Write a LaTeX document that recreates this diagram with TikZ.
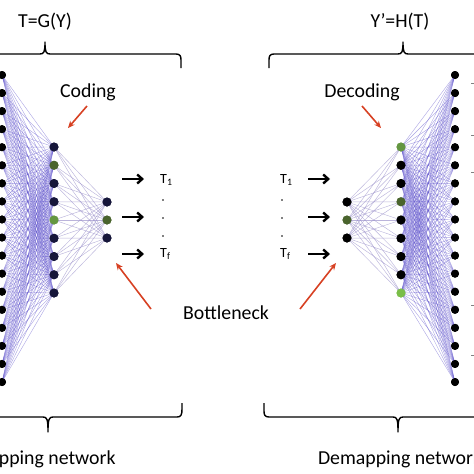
\documentclass[tikz,border=0pt]{standalone}
\usepackage{fontspec}
\setmainfont{Carlito}
\usetikzlibrary{arrows.meta}
\definecolor{navy}{RGB}{22,22,58}
\definecolor{dgreen}{RGB}{74,100,45}
\definecolor{mgreen}{RGB}{100,150,65}
\definecolor{bgreen}{RGB}{122,190,72}
\definecolor{wire}{RGB}{100,88,205}
\definecolor{wirelight}{RGB}{150,140,200}
\definecolor{redarrow}{RGB}{215,65,35}
\tikzset{
  neuron/.style={circle,inner sep=0pt,minimum size=8pt,fill=#1},
  neuron/.default=black,
  hid/.style={circle,inner sep=0pt,minimum size=9pt,fill=#1},
  hid/.default=navy,
  wiredense/.style={draw=wire,line width=0.4pt,opacity=0.55},
  wirethin/.style={draw=wirelight,line width=0.45pt,opacity=0.65},
  big/.style={font=\fontsize{19.8}{23}\selectfont},
  tlab/.style={font=\fontsize{14}{16}\selectfont,inner sep=0pt},
  blackarrow/.style={line width=2.4pt,-{Straight Barb[length=5pt,width=9pt]}},
  redarr/.style={draw=redarrow,line width=1.6pt,-{Stealth[length=7pt,width=6pt]}},
  brace/.style={line width=1.4pt,line join=round}
}
\begin{document}
\begin{tikzpicture}[x=1pt,y=-1pt]
\useasboundingbox (0,0) rectangle (474,474);
\clip (0,0) rectangle (474,474);
% ---------- nodes: left network
\foreach \i in {0,...,17} \node[neuron] (li\i) at (2,{75+18.06*\i}) {};
\foreach \i/\c in {0/navy,1/dgreen,2/navy,3/navy,4/mgreen,5/navy,6/navy,7/navy,8/navy}
  \node[hid=\c] (lh\i) at (54,{147+18.25*\i}) {};
\foreach \i/\c in {0/navy,1/dgreen,2/navy}
  \node[hid=\c] (lb\i) at (107,{202+18*\i}) {};
% ---------- nodes: right network
\foreach \i/\c in {0/black,1/dgreen,2/black}
  \node[hid=\c] (rb\i) at (347,{202+18*\i}) {};
\foreach \i/\c in {0/mgreen,1/black,2/black,3/dgreen,4/black,5/black,6/black,7/black,8/bgreen}
  \node[hid=\c] (rh\i) at (401,{147+18.25*\i}) {};
\foreach \i in {0,...,17} \node[neuron] (ro\i) at (455,{75+18.06*\i}) {};
% ---------- wires
\foreach \i in {0,...,17} \foreach \j in {0,...,8} {
  \draw[wiredense] (li\i.center) -- (lh\j.center);
  \draw[wiredense] (ro\i.center) -- (rh\j.center);
}
\foreach \i in {0,...,8} \foreach \j in {0,1,2} {
  \draw[wirethin] (lh\i.center) -- (lb\j.center);
  \draw[wirethin] (rh\i.center) -- (rb\j.center);
}
% redraw nodes on top
\foreach \i in {0,...,17} {\fill[black] (li\i) circle (4); \fill[black] (ro\i) circle (4);}
\foreach \i/\c in {0/navy,1/dgreen,2/navy,3/navy,4/mgreen,5/navy,6/navy,7/navy,8/navy}
  \fill[\c] (lh\i) circle (4.5);
\foreach \i/\c in {0/navy,1/dgreen,2/navy} \fill[\c] (lb\i) circle (4.5);
\foreach \i/\c in {0/black,1/dgreen,2/black} \fill[\c] (rb\i) circle (4.5);
\foreach \i/\c in {0/mgreen,1/black,2/black,3/dgreen,4/black,5/black,6/black,7/black,8/bgreen}
  \fill[\c] (rh\i) circle (4.5);
% small marks at right edge
\foreach \y in {83,135,172,305,355} \draw[gray,line width=0.8pt] (471,\y) -- (474,\y);
% ---------- braces
\draw[brace] (-5,54) -- (40,54) .. controls (44,54) and (45,52) .. (45,42)
  .. controls (45,52) and (46,54) .. (50,54) -- (176,54)
  .. controls (180,54) and (181,56) .. (181,60) -- (181,68);
\draw[brace] (269,68) -- (269,60) .. controls (269,56) and (270,54) .. (274,54)
  -- (398,54) .. controls (402,54) and (403,52) .. (403,42)
  .. controls (403,52) and (404,54) .. (408,54) -- (480,54);
\draw[brace] (-5,417) -- (43,417) .. controls (47,417) and (48,419) .. (48,432)
  .. controls (48,419) and (49,417) .. (53,417) -- (177,417)
  .. controls (181,417) and (182,415) .. (182,409) -- (182,403);
\draw[brace] (264,403) -- (264,411) .. controls (264,415) and (265,417) .. (269,417)
  -- (393,417) .. controls (397,417) and (398,419) .. (398,432)
  .. controls (398,419) and (399,417) .. (403,417) -- (480,417);
% ---------- titles
\node[big] (tg) at (45,22) {T=G(Y)};
\node[big] (yh) at (400,22) {Y’=H(T)};
\node[big] (mapn) at (44,459) {Mapping network};
\node[big] (demapn) at (400,459) {Demapping network};
% ---------- labels and red arrows
\node[big] (coding) at (88,92) {Coding};
\node[big] (decoding) at (362,92) {Decoding};
\node[big] (bott) at (226,313) {Bottleneck};
\coordinate (c1) at (87,106); \coordinate (c2) at (68,128);
\coordinate (d1) at (362,106); \coordinate (d2) at (381,128);
\coordinate (b1) at (151,309); \coordinate (b2) at (116,263);
\coordinate (b3) at (300,309); \coordinate (b4) at (336,263);
\draw[redarr] (c1) -- (c2);
\draw[redarr] (d1) -- (d2);
\draw[redarr] (b1) -- (b2);
\draw[redarr] (b3) -- (b4);
% ---------- T outputs
\foreach \y/\n in {179/1,217/2,254/3} {
  \coordinate (la\n) at (122,\y); \coordinate (lz\n) at (144,\y);
  \coordinate (ra\n) at (308,\y); \coordinate (rz\n) at (330,\y);
  \draw[blackarrow] (la\n) -- (lz\n);
  \draw[blackarrow] (ra\n) -- (rz\n);
}
\node[tlab,anchor=west] (lt1) at (160,180) {T\textsubscript{1}};
\node[tlab,anchor=west] (ltf) at (160,254) {T\textsubscript{f}};
\node[tlab,anchor=west] (rt1) at (280,180) {T\textsubscript{1}};
\node[tlab,anchor=west] (rtf) at (280,254) {T\textsubscript{f}};
\foreach \y in {200,218,236} {
  \fill (163,\y) circle (0.9);
  \fill (282,\y) circle (0.9);
}
\end{tikzpicture}
\end{document}
